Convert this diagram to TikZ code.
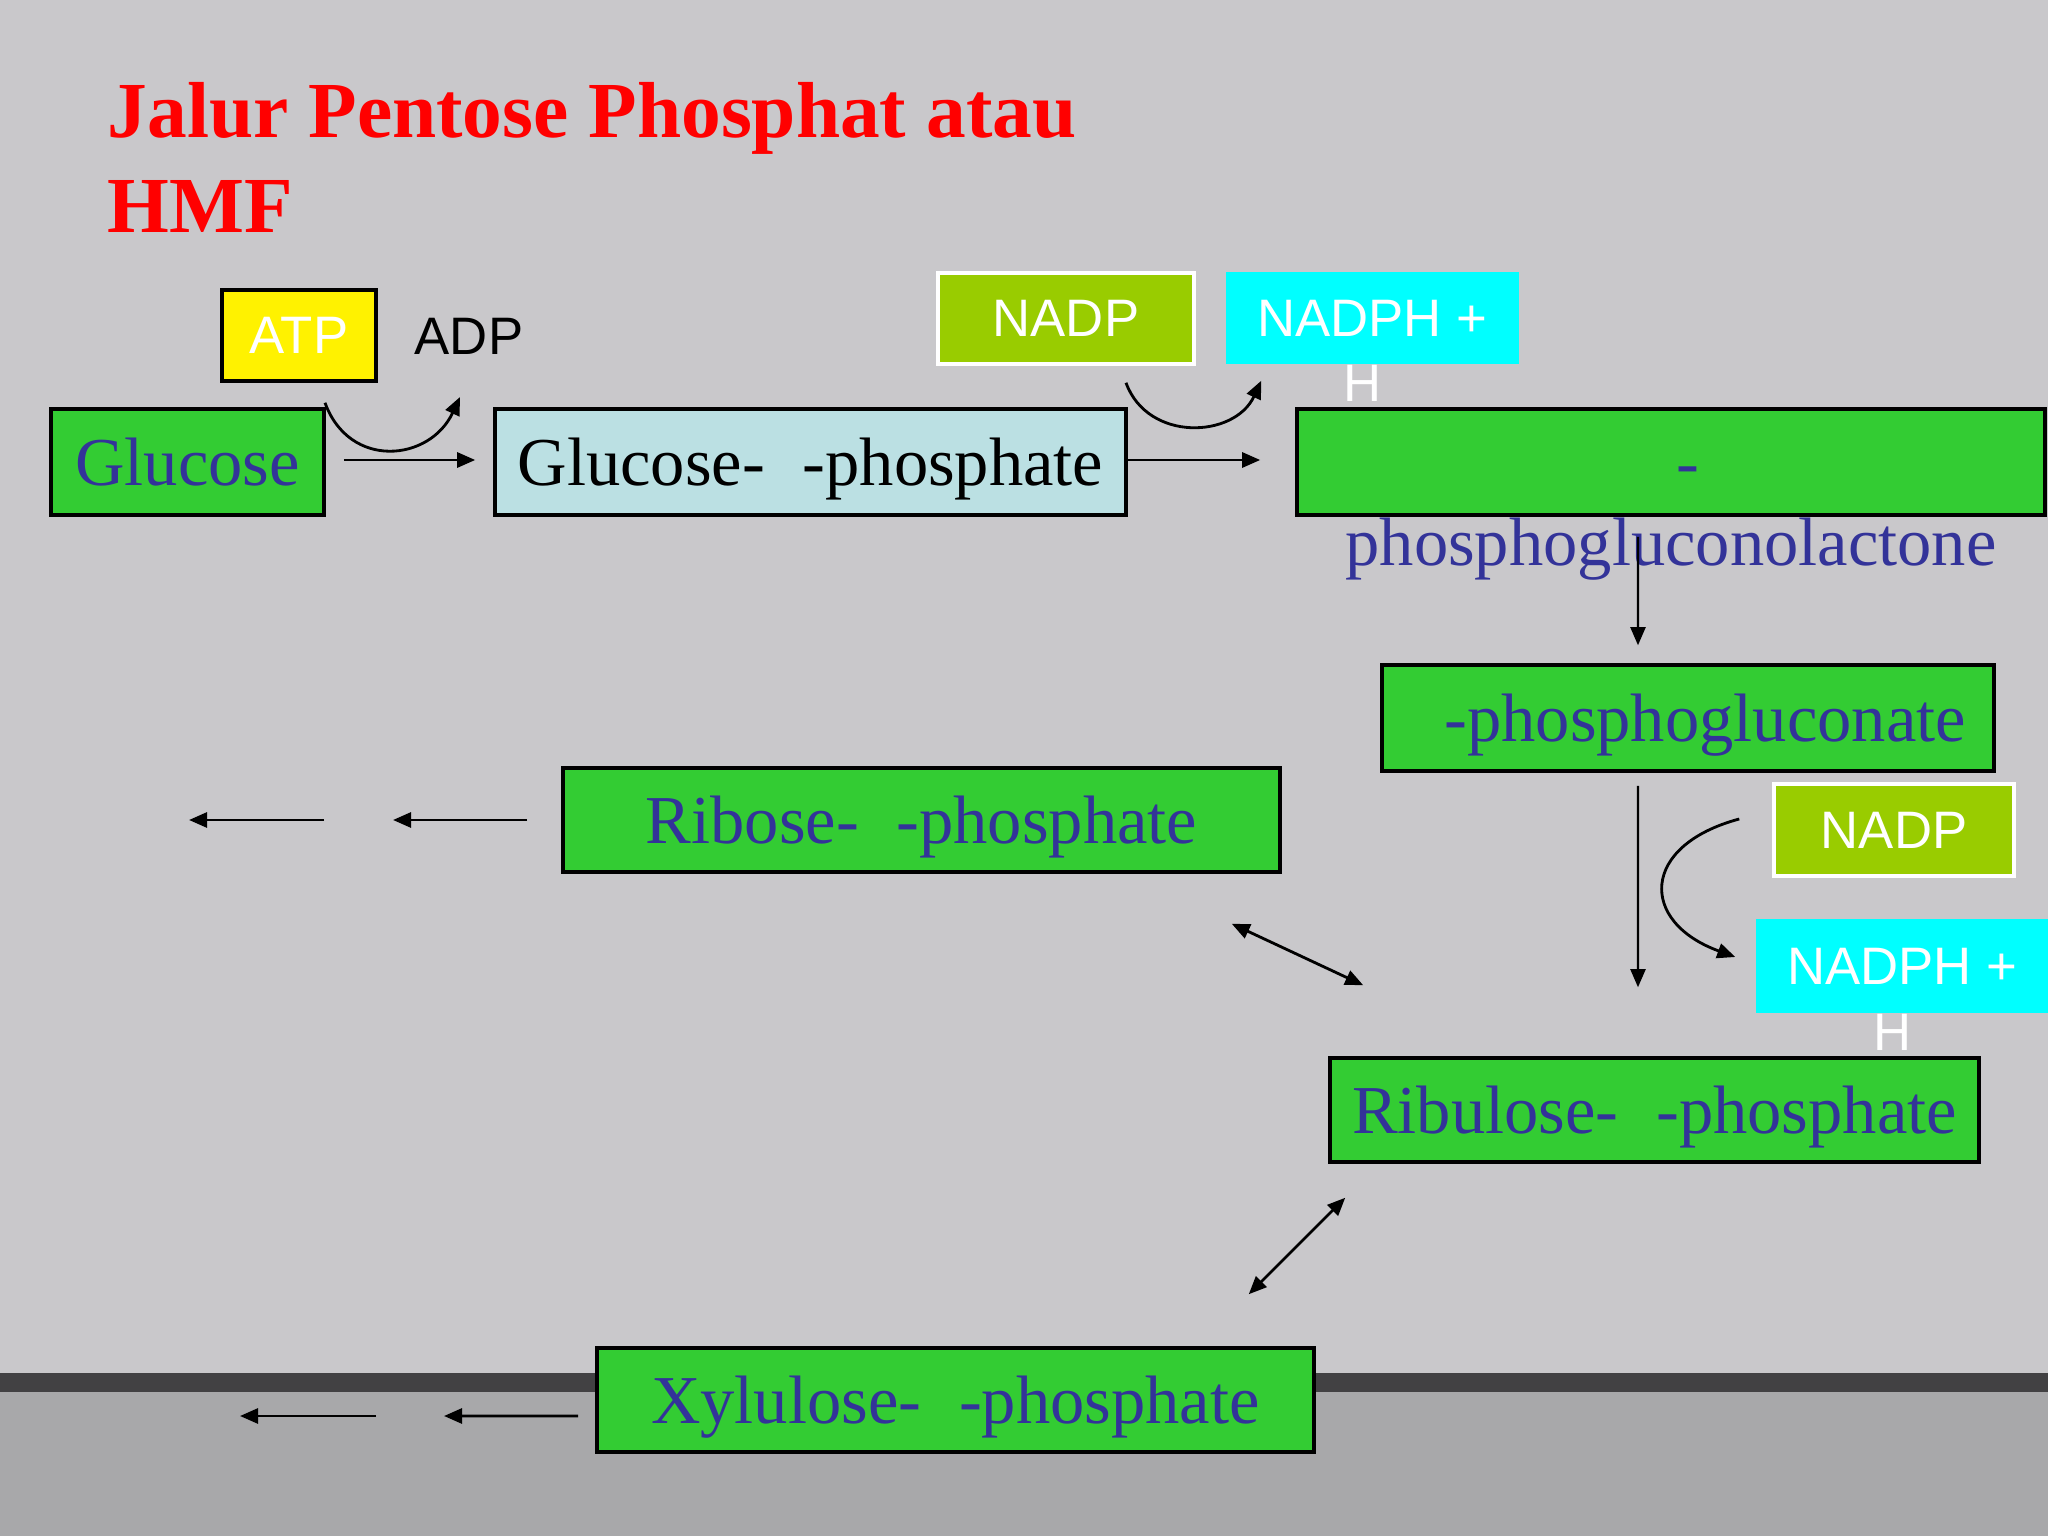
\documentclass[tikz,border=0pt]{standalone}
\usepackage{fontspec}
\setmainfont{Liberation Serif}
\setsansfont{Liberation Sans}
\usepackage{xcolor}
\definecolor{boxgreen}{RGB}{51,204,51}
\definecolor{txtblue}{RGB}{51,51,153}
\definecolor{paleblue}{RGB}{187,224,227}
\definecolor{nadpgreen}{RGB}{153,204,0}
\definecolor{nadphcyan}{RGB}{0,255,255}
\definecolor{slidebg}{RGB}{201,200,203}
\definecolor{floorbg}{RGB}{168,168,170}
\definecolor{band}{RGB}{66,65,67}
\usepackage{tikz}
\usetikzlibrary{arrows.meta, positioning, calc}

\begin{document}
\begin{tikzpicture}[
        metab/.style={rectangle, draw=black, line width=1pt, fill=#1, inner sep=0pt, minimum height=1.06cm, text height=0.47cm, text depth=0pt, font=\fontsize{19.5}{23}\selectfont, text=txtblue},
        metab/.default=boxgreen,
        cofac/.style={rectangle, fill=#1, inner sep=0pt, minimum width=2.93cm, minimum height=0.92cm, font=\sffamily\fontsize{15}{18}\selectfont, text=white},
        hlabel/.style={font=\sffamily\fontsize{15}{18}\selectfont, text=white, inner sep=0pt, xshift=-1mm},
        rxn/.style={-{Triangle[length=1.8mm,width=1.5mm]}, line width=0.8pt},
        eqm/.style={{Triangle[length=1.8mm,width=1.5mm]}-{Triangle[length=1.8mm,width=1.5mm]}, line width=0.8pt}
    ]
        % slide background
        \fill[slidebg] (0,0) rectangle (20.48,-15.36);
        \fill[floorbg] (0,-13.88) rectangle (20.48,-15.36);
        \fill[band] (0,-13.73) rectangle (20.48,-13.92);
        \useasboundingbox (0,0) rectangle (20.48,-15.36);

        \node[anchor=north west, inner sep=0pt, align=left, text=red, font=\bfseries\fontsize{22.6}{27}\selectfont] (title) at (1.07,-0.82) {Jalur Pentose Phosphat atau\\HMF};

        % first row
        \node[cofac=yellow, draw=black, line width=1pt, minimum width=1.54cm, minimum height=0.91cm] (atp) at (2.99,-3.355) {ATP};
        \node[font=\sffamily\fontsize{15}{18}\selectfont] (adp) at (4.69,-3.36) {ADP};
        \node[metab, minimum width=2.73cm] (glucose) at (1.875,-4.62) {Glucose};
        \node[metab=paleblue, text=black, minimum width=6.31cm] (g6p) at (8.105,-4.62) {Glucose-\hspace{0.55em}-phosphate};
        \node[cofac=nadpgreen, draw=white, line width=1pt, minimum width=2.56cm, minimum height=0.91cm] (nadpA) at (10.66,-3.185) {NADP};
        \node[cofac=nadphcyan, label={[hlabel]below:H}] (nadphA) at (13.725,-3.18) {NADPH +};
        \node[metab, minimum width=7.48cm, label={[font=\fontsize{19.5}{23}\selectfont, text=txtblue, inner sep=0pt]below:phosphogluconolactone}] (lactone) at (16.71,-4.62) {\hspace{0.5em}-};

        % right column
        \node[metab, minimum width=6.12cm] (pgluconate) at (16.88,-7.18) {\hspace{0.5em}-phosphogluconate};
        \node[cofac=nadpgreen, draw=white, line width=1pt, minimum width=2.40cm] (nadpB) at (18.94,-8.30) {NADP};
        \node[cofac=nadphcyan, minimum height=0.94cm, label={[hlabel]below:H}] (nadphB) at (19.025,-9.66) {NADPH +};
        \node[metab, minimum width=6.49cm, minimum height=1.04cm] (ribulose) at (16.545,-11.10) {Ribulose-\hspace{0.55em}-phosphate};

        % pentoses
        \node[metab, minimum width=7.17cm, minimum height=1.04cm] (ribose) at (9.215,-8.20) {Ribose-\hspace{0.55em}-phosphate};
        \node[metab, minimum width=7.17cm, minimum height=1.04cm] (xylulose) at (9.555,-14.00) {Xylulose-\hspace{0.55em}-phosphate};

        \coordinate (ribA) at (3.93,-8.20);
        \coordinate (ribB) at (3.24,-8.20);
        \coordinate (ribC) at (1.89,-8.20);
        \coordinate (xylA) at (4.44,-14.16);
        \coordinate (xylB) at (3.76,-14.16);
        \coordinate (xylC) at (2.40,-14.16);

        \draw[rxn] ([xshift=1.8mm,yshift=0.2mm]glucose.east) -- ([xshift=-1.8mm,yshift=0.2mm]g6p.west);
        \draw[rxn] ([yshift=0.2mm]g6p.east) -- ([xshift=-3.5mm,yshift=0.2mm]lactone.west);
        \draw[rxn] ([xshift=2.6mm,yshift=-2mm]atp.south) to[out=-70,in=-115,looseness=1.35] ([xshift=-0.9mm,yshift=-6.1mm]adp.center);
        \draw[rxn] ([xshift=6mm,yshift=-1.7mm]nadpA.south) to[out=-70,in=-115,looseness=1.2] ([xshift=3.6mm,yshift=-1.6mm]nadphA.south west);
        \draw[rxn, line width=0.6pt] ([xshift=-3.3mm,yshift=-2mm]lactone.south) -- ([xshift=-5mm,yshift=1.8mm]pgluconate.north);
        \draw[rxn, line width=0.6pt] ([xshift=-5mm,yshift=-1.3mm]pgluconate.south) -- ([xshift=-1.65mm,yshift=6.9mm]ribulose.north);
        \draw[rxn] ([xshift=-3.3mm,yshift=1.1mm]nadpB.west) to[out=195,in=160,looseness=1.9] ([xshift=-2mm,yshift=0.9mm]nadphB.west);
        \draw[eqm] ([xshift=-5mm,yshift=-5mm]ribose.south east) -- ([xshift=3.5mm,yshift=7.1mm]ribulose.north west);
        \draw[eqm] ([xshift=1.7mm,yshift=-3.4mm]ribulose.south west) -- ([xshift=-6.7mm,yshift=5.2mm]xylulose.north east);
        \draw[rxn] ([xshift=-3.4mm]ribose.west) -- (ribA);
        \draw[rxn] (ribB) -- (ribC);
        \draw[rxn] ([xshift=-1.7mm,yshift=-1.6mm]xylulose.west) -- (xylA);
        \draw[rxn] (xylB) -- (xylC);
    \end{tikzpicture}
\end{document}
